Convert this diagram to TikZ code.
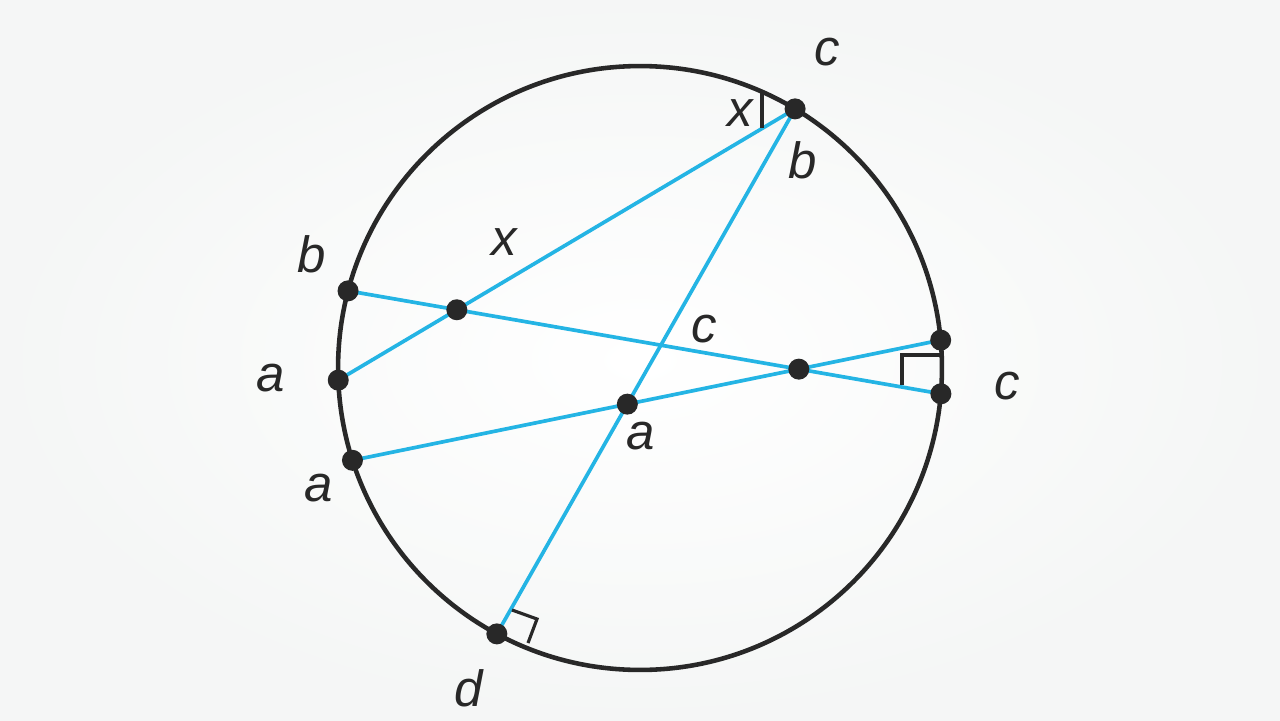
\documentclass[tikz,border=0pt]{standalone}
\usepackage{fontspec}
\setmainfont{Liberation Sans}
\usetikzlibrary{calc}
\definecolor{chord}{RGB}{36,180,228}
\definecolor{ink}{RGB}{40,40,40}
\definecolor{paper}{RGB}{236,239,238}

\begin{document}
\begin{tikzpicture}[
    x=0.02cm, y=-0.02cm,
    dot/.style={circle, fill=ink, inner sep=0pt, minimum size=0.42cm},
    lbl/.style={text=ink, font=\fontsize{29}{34}\selectfont\itshape, inner sep=0pt},
    chordline/.style={draw=chord, line width=2.1pt},
    tick/.style={draw=ink, line width=1.8pt}
  ]
    \shade[inner color=white, outer color=paper!55!white] (0,0) rectangle (1280,720);
    \useasboundingbox (0,0) rectangle (1280,720);

    % circle and the points on it
    \coordinate (o) at (640,368);
    \draw[ink, line width=2.6pt] (o) circle (6.04cm);
    \coordinate (top) at ($(o)+(-59.1:302)$);
    \coordinate (left1) at ($(o)+(-165.2:302)$);
    \coordinate (left2) at ($(o)+(177.7:302)$);
    \coordinate (left3) at ($(o)+(162.2:302)$);
    \coordinate (bottom) at ($(o)+(118.3:302)$);
    \coordinate (right1) at ($(o)+(-5.3:302)$);
    \coordinate (right2) at ($(o)+(4.9:302)$);

    % crossing points
    \coordinate (m1) at (intersection of left2--top and left1--right2);
    \coordinate (m2) at (intersection of top--bottom and left3--right1);
    \coordinate (m3) at (intersection of left1--right2 and left3--right1);

    % chords
    \draw[chordline] (left2) -- (top);
    \draw[chordline] (top) -- (bottom);
    \draw[chordline] (left1) -- (right2);
    \draw[chordline] (left3) -- (right1);

    % angle marks
    \draw[tick] (762,93) -- (762,128);
    \draw[tick] (902,385) -- (902,355) -- (941,355);
    \draw[tick] (512,610) -- (537,619) -- (528,643);

    % dots
    \foreach \p in {top, left1, left2, left3, bottom, right1, right2, m1, m2, m3}
      \node[dot] (d-\p) at (\p) {};

    % labels
    \node[lbl] (lc1) at (827,52) {c};
    \node[lbl] (lx1) at (740,113) {x};
    \node[lbl] (lb1) at (803,160) {b};
    \node[lbl] (lx2) at (504,242) {x};
    \node[lbl] (lb2) at (312,254) {b};
    \node[lbl] (la1) at (271,378) {a};
    \node[lbl] (la2) at (319,488) {a};
    \node[lbl] (ld) at (469,688) {d};
    \node[lbl] (lc2) at (704,329) {c};
    \node[lbl] (la3) at (641,436) {a};
    \node[lbl] (lc3) at (1007,386) {c};
\end{tikzpicture}
\end{document}
